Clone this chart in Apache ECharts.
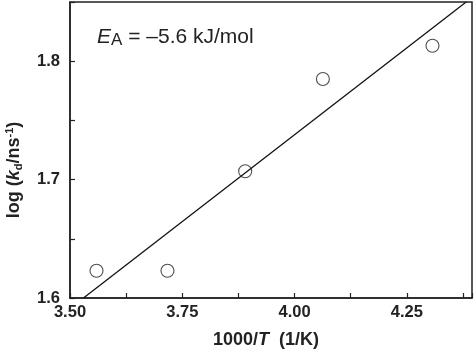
<!DOCTYPE html>
<html>
<head>
<meta charset="utf-8">
<script src="https://cdn.jsdelivr.net/npm/echarts@6/dist/echarts.min.js"></script>
<style>html,body{margin:0;padding:0;background:#fff}#c{width:474px;height:352px}</style>
</head>
<body>
<div id="c"></div>
<script>
var xValues = [3.559, 3.717, 3.890, 4.063, 4.307];
var yValues = [1.623, 1.623, 1.707, 1.785, 1.813];
var fitX = [3.530, 4.382];
var fitY = [1.600, 1.850];
var xTicks = [3.50, 3.75, 4.00, 4.25];
var yTicks = [1.6, 1.7, 1.8];

var pts = xValues.map(function(x, i){ return [x, yValues[i]]; });
var fit = fitX.map(function(x, i){ return [x, fitY[i]]; });
var FONT = '"Liberation Sans", Arial, sans-serif';

var chart = echarts.init(document.getElementById('c'));
chart.setOption({
  animation: false,
  backgroundColor: '#fff',
  grid: { left: 70, right: 2, top: 2, bottom: 54, containLabel: false, outerBoundsMode: 'none',
    show: true, borderColor: '#222', borderWidth: 1.5 },
  xAxis: {
    type: 'value', min: 3.5, max: 4.395, interval: 0.25,
    axisLine: { show: true, lineStyle: { color: '#222', width: 1.5 } },
    axisTick: { inside: true, length: 5, lineStyle: { color: '#222', width: 1.2 } },
    minorTick: { show: true, splitNumber: 2, length: 5, lineStyle: { color: '#222', width: 1.2 } },
    splitLine: { show: false },
    axisLabel: { showMaxLabel: false, hideOverlap: false, margin: 6, color: '#222', fontFamily: FONT, fontWeight: 'bold', fontSize: 16.5,
      formatter: function(v){ return v.toFixed(2); } },
    name: '{b|1000/}{bi|T}{b|  (1/K)}', nameLocation: 'middle', nameGap: 33,
    nameTextStyle: { padding: [0, 10, 0, 0], rich: {
      b: { fontFamily: FONT, fontWeight: 'bold', fontSize: 18, color: '#222' },
      bi: { fontFamily: FONT, fontWeight: 'bold', fontStyle: 'italic', fontSize: 18, color: '#222' } } }
  },
  yAxis: {
    type: 'value', min: 1.6, max: 1.85, interval: 0.1,
    axisLine: { show: true, lineStyle: { color: '#222', width: 1.5 } },
    axisTick: { inside: true, length: 5, lineStyle: { color: '#222', width: 1.2 } },
    minorTick: { show: true, splitNumber: 2, length: 5, lineStyle: { color: '#222', width: 1.2 } },
    splitLine: { show: false },
    axisLabel: { showMaxLabel: false, hideOverlap: false, margin: 10, color: '#222', fontFamily: FONT, fontWeight: 'bold', fontSize: 16.5,
      formatter: function(v){ return v.toFixed(1); } },
    name: '{b|log (}{bi|k}{sub|d}{b|/ns}{sup|-1}{b|)}', nameLocation: 'middle', nameGap: 46,
    nameTextStyle: { padding: [0, 40, 0, 0], rich: {
      b: { fontFamily: FONT, fontWeight: 'bold', fontSize: 18, color: '#222' },
      bi: { fontFamily: FONT, fontWeight: 'bold', fontStyle: 'italic', fontSize: 18, color: '#222' },
      sub: { fontFamily: FONT, fontWeight: 'bold', fontSize: 11, color: '#222', verticalAlign: 'bottom', padding: [9, 0, 0, 0] },
      sup: { fontFamily: FONT, fontWeight: 'bold', fontSize: 11, color: '#222', verticalAlign: 'top', padding: [0, 0, 9, 0] } } }
  },
  graphic: [{
    type: 'text', left: 97, top: 27, z: 10,
    style: {
      text: '{i|E}{s|A}{n| = –5.6 kJ/mol}',
      rich: {
        i: { fontFamily: FONT, fontStyle: 'italic', fontSize: 21, fill: '#222' },
        s: { fontFamily: FONT, fontSize: 17, fill: '#222', verticalAlign: 'bottom', padding: [5, 0, 0, 0] },
        n: { fontFamily: FONT, fontSize: 21, fill: '#222' }
      }
    }
  }],
  series: [
    { type: 'line', data: fit, symbol: 'none', lineStyle: { color: '#111', width: 1.3 }, clip: true, z: 2 },
    { type: 'scatter', data: pts, symbol: 'circle', symbolSize: 13,
      itemStyle: { color: 'rgba(255,255,255,0)', borderColor: '#222', borderWidth: 1.1 }, z: 3 }
  ]
});
</script>
</body>
</html>
